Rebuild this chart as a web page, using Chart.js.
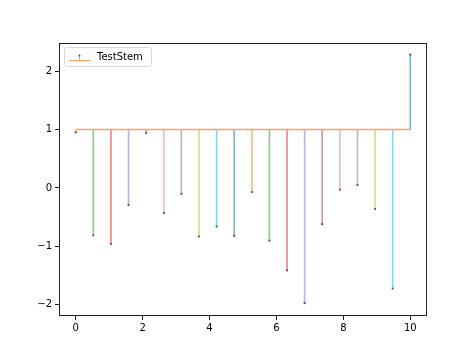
<!DOCTYPE html>
<html>
<head>
<meta charset="utf-8">
<script src="https://cdn.jsdelivr.net/npm/chart.js@4.4.1/dist/chart.umd.min.js"></script>
<style>
  html, body { margin: 0; padding: 0; background: #fff; }
  #wrap { position: relative; width: 474px; height: 355px; }
  #legend { position: absolute; left: 64px; top: 47px; width: 88px; height: 20px;
    border: 1px solid #d8d8d8; border-radius: 3px; background: rgba(255,255,255,0.85);
    font-family: "DejaVu Sans", sans-serif; font-size: 10px; color: #000; box-sizing: border-box; }
  #legend svg { position: absolute; left: 3px; top: 2px; }
  #legend span { position: absolute; left: 32px; top: 3px; line-height: 12px; }
</style>
</head>
<body>
<div id="wrap">
  <canvas id="c" width="474" height="355"></canvas>
  <div id="legend">
    <svg width="26" height="15" viewBox="0 0 26 15">
      <rect x="1" y="10" width="21" height="1" fill="#ffa064"/>
      <rect x="11" y="6" width="1" height="4" fill="#ffa064"/>
      <circle cx="11.5" cy="5.5" r="1" fill="#555"/>
    </svg>
    <span>TestStem</span>
  </div>
</div>
<script>
const xValues = [0, 0.526, 1.053, 1.579, 2.105, 2.632, 3.158, 3.684, 4.211, 4.737,
                 5.263, 5.789, 6.316, 6.842, 7.368, 7.895, 8.421, 8.947, 9.474, 10];
const yValues = [0.95, -0.81, -0.96, -0.29, 0.94, -0.43, -0.10, -0.83, -0.66, -0.82,
                 -0.07, -0.90, -1.41, -1.97, -0.62, -0.03, 0.05, -0.36, -1.72, 2.28];
const baseline = 1;
const seriesLabel = 'TestStem';
const xTickValues = [0, 2, 4, 6, 8, 10];
const yTickValues = [-2, -1, 0, 1, 2];

const tab10 = ['31,119,180','255,127,14','44,160,44','214,39,40','148,103,189',
               '140,86,75','227,119,194','127,127,127','188,189,34','23,190,207'];
const stemColors = xValues.map((_, i) => 'rgba(' + tab10[(i + 1) % 10] + ',0.55)');

const stemData = xValues.map((x, i) => ({ x: x, y: [baseline, yValues[i]] }));
const markerData = xValues.map((x, i) => ({ x: x, y: yValues[i] }));
const baseData = [{ x: xValues[0], y: baseline }, { x: xValues[xValues.length - 1], y: baseline }];

const framePlugin = {
  id: 'frame',
  afterDraw(chart) {
    const a = chart.chartArea, ctx = chart.ctx;
    ctx.save();
    ctx.strokeStyle = '#222';
    ctx.lineWidth = 1;
    ctx.strokeRect(Math.round(a.left) + 0.5, Math.round(a.top) + 0.5,
                   Math.round(a.right - a.left) - 1, Math.round(a.bottom - a.top) - 1);
    ctx.restore();
  }
};

const font = { family: 'DejaVu Sans', size: 10 };

new Chart(document.getElementById('c'), {
  type: 'bar',
  data: {
    datasets: [
      { type: 'bar', label: seriesLabel, data: stemData,
        backgroundColor: stemColors, borderWidth: 0, barThickness: 1, order: 3 },
      { type: 'line', label: seriesLabel + ' baseline', data: baseData,
        borderColor: 'rgb(255,160,100)', borderWidth: 1.3,
        pointRadius: 0, order: 2 },
      { type: 'scatter', label: seriesLabel + ' markers', data: markerData,
        backgroundColor: '#555', borderColor: '#555', pointRadius: 1.1, borderWidth: 0, order: 1 }
    ]
  },
  options: {
    responsive: false,
    animation: false,
    layout: { padding: { left: 0, top: 43, right: 47, bottom: 0 } },
    plugins: { legend: { display: false }, tooltip: { enabled: false } },
    scales: {
      x: {
        type: 'linear', offset: false, min: -0.5, max: 10.5,
        afterBuildTicks: s => { s.ticks = xTickValues.map(v => ({ value: v })); },
        afterFit: s => { s.height = 39; },
        grid: { offset: false, drawOnChartArea: false, drawTicks: true, tickLength: 4, color: '#222' },
        border: { display: false },
        ticks: { font: font, color: '#000', padding: 2, maxRotation: 0,
                 callback: v => String(v).replace('-', '\u2212') }
      },
      y: {
        type: 'linear', min: -2.19, max: 2.48,
        afterBuildTicks: s => { s.ticks = yTickValues.map(v => ({ value: v })); },
        afterFit: s => { s.width = 59; },
        grid: { offset: false, drawOnChartArea: false, drawTicks: true, tickLength: 4, color: '#222' },
        border: { display: false },
        ticks: { font: font, color: '#000', padding: 3,
                 callback: v => String(v).replace('-', '\u2212') }
      }
    }
  },
  plugins: [framePlugin]
});
</script>
</body>
</html>
